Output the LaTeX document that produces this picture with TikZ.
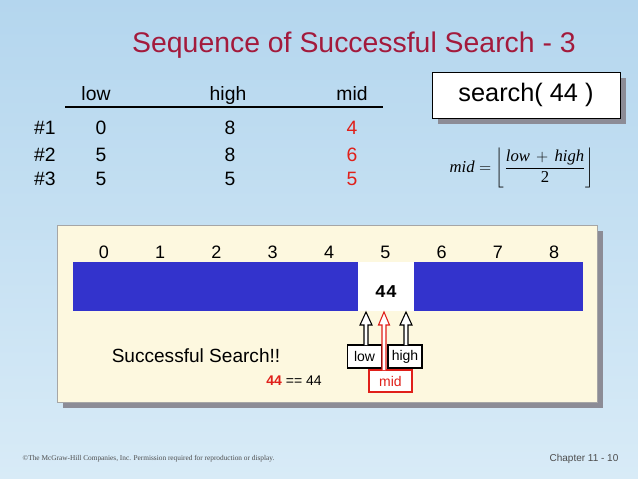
\documentclass[tikz,border=0pt]{standalone}
\usepackage{fontspec}
\setmainfont{Liberation Sans}
\newfontfamily\serifx{Liberation Serif}
\newfontfamily\monox{Liberation Mono}
\definecolor{ttl}{HTML}{A31A3C}
\definecolor{bgtop}{HTML}{B4D6EE}
\definecolor{bgbot}{HTML}{D8EBF7}
\definecolor{cream}{HTML}{FDF8DF}
\definecolor{barblue}{HTML}{3333CC}
\definecolor{rd}{HTML}{E0201A}
\definecolor{shd}{HTML}{8C8C96}
\tikzset{
  px/.style={x=0.75pt,y=-0.75pt},
  tx/.style={font=\fontsize{14.5}{14}\selectfont, inner sep=0pt, text height=1.6ex, text depth=0.3ex},
  num/.style={font=\fontsize{13.5}{14}\selectfont, inner sep=0pt},
  lbl/.style={draw, line width=0.8pt, fill=white, font=\fontsize{10.5}{10}\selectfont, inner sep=1pt, minimum height=23*0.75pt, minimum width=34*0.75pt},
  arr/.style={draw, line width=0.8pt, fill=white}
}
\begin{document}
\begin{tikzpicture}[px]
\useasboundingbox (0,0) rectangle (638,478);
\shade[top color=bgtop, bottom color=bgbot] (0,0) rectangle (638,478);
\node[font=\fontsize{21.3}{22}\selectfont, text=ttl] (title) at (354,45) {Sequence of Successful Search - 3};
% table
\node[tx] (hl) at (96,96) {low};
\node[tx] (hh) at (228,96) {high};
\node[tx] (hm) at (352,96) {mid};
\draw[line width=0.8pt] (65,107) -- (383,107);
\foreach \r/\y/\a/\b/\c in {1/130/0/8/4, 2/157/5/8/6, 3/181/5/5/5}{
  \node[tx] at (45,\y) {\#\r};
  \node[tx] at (101,\y) {\a};
  \node[tx] at (230,\y) {\b};
  \node[tx, text=rd] at (352,\y) {\c};
}
% search box
\fill[shd] (438,78) rectangle (626,124);
\node[draw, line width=0.6pt, fill=white, minimum width=188*0.75pt, minimum height=46*0.75pt, font=\fontsize{19}{20}\selectfont] (sb) at (526,95) {search( 44 )};
\node[font=\serifx\fontsize{12.5}{13}\selectfont] (f) at (522,168) {$\hbox{\itshape mid}=\left\lfloor\displaystyle\frac{\hbox{\itshape low}\,+\,\hbox{\itshape high}}{\hbox{2}}\right\rfloor$};
% cream box
\fill[shd] (63,231) rectangle (603,408);
\draw[fill=cream, draw=gray!70] (57,225) rectangle (597,402);
\fill[barblue] (73,262) rectangle (583,311);
\foreach \i in {0,...,8}{
  \node[num] (n\i) at (104+56.25*\i,252) {\i};
}
\fill[white] (358,262) rectangle (414,311);
\node[font=\monox\bfseries\fontsize{13.5}{14}\selectfont] (v) at (386,292) {44};
% labels
\node[lbl] (lo) at (364.5,356.5) {low};
\node[lbl] (hi) at (405,356.5) {high};
\node[lbl, draw=rd, text=rd, minimum width=43*0.75pt, minimum height=22*0.75pt] (md) at (390.5,381) {mid};
% arrows
\foreach \x in {366,406}{
  \draw[arr] (\x-2,345) -- (\x-2,325) -- (\x-6,325) -- (\x,312) -- (\x+6,325) -- (\x+2,325) -- (\x+2,345);
}
\draw[arr, draw=rd] (382,370) -- (382,325) -- (378.5,325) -- (384,312) -- (389.5,325) -- (386,325) -- (386,370);
\node[font=\fontsize{14.3}{14}\selectfont] (ss) at (196,356) {Successful Search!!};
\node[font=\fontsize{10.5}{11}\selectfont] (eq) at (294,381) {\textcolor{rd}{\bfseries 44} == 44};
% footer
\node[anchor=west, font=\serifx\fontsize{5.5}{6}\selectfont, text=black!70] (ft) at (18,459) {\textcopyright The McGraw-Hill Companies, Inc. Permission required for reproduction or display.};
\node[font=\fontsize{7.5}{8}\selectfont, text=black!70] (ch) at (584,459) {Chapter 11 - 10};
\end{tikzpicture}
\end{document}
